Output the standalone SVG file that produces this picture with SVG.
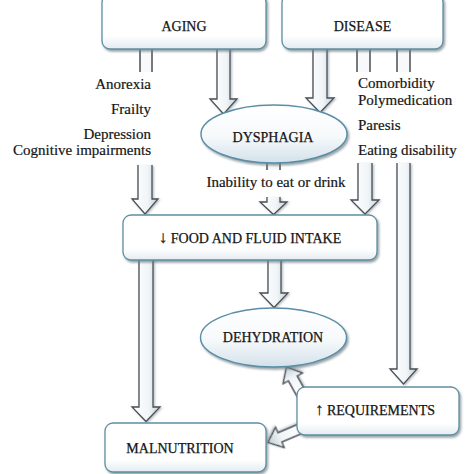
<svg xmlns="http://www.w3.org/2000/svg" width="474" height="474" viewBox="0 0 474 474">
<defs>
<linearGradient id="boxFill" x1="0" y1="0" x2="0" y2="1">
<stop offset="0" stop-color="#ffffff"/>
<stop offset="0.75" stop-color="#ffffff"/>
<stop offset="1" stop-color="#e3ecf1"/>
</linearGradient>
<linearGradient id="ellFill" x1="0" y1="0" x2="0" y2="1">
<stop offset="0" stop-color="#ffffff"/>
<stop offset="0.55" stop-color="#f6f9fb"/>
<stop offset="1" stop-color="#d3e1ea"/>
</linearGradient>
<linearGradient id="arrFill" x1="0" y1="0" x2="1" y2="0">
<stop offset="0" stop-color="#ffffff"/>
<stop offset="0.6" stop-color="#f1f5f7"/>
<stop offset="1" stop-color="#c3d0d8"/>
</linearGradient>
<filter id="shadow" x="-10%" y="-10%" width="125%" height="135%">
<feDropShadow dx="1.5" dy="2" stdDeviation="1.3" flood-color="#6d7b84" flood-opacity="0.7"/>
</filter>
<filter id="ashadow" x="-30%" y="-10%" width="170%" height="130%">
<feDropShadow dx="1.2" dy="1" stdDeviation="0.8" flood-color="#7a8a94" flood-opacity="0.6"/>
</filter>
</defs>
<style>
.box{fill:url(#boxFill);stroke:#5f8fa0;stroke-width:1.3;filter:url(#shadow)}
.ell{fill:url(#ellFill);stroke:#5a8ea6;stroke-width:1.4;filter:url(#shadow)}
.arr{fill:url(#arrFill);stroke:#4a4f54;stroke-width:1.3;stroke-linejoin:miter;filter:url(#ashadow)}
.rail{stroke:#4a4f54;stroke-width:1.5;fill:none}
.railfill{fill:#f7f9fa;stroke:none}
.cap{font-family:"Liberation Serif","Times New Roman",serif;font-size:14px;fill:#151515;stroke:#151515;stroke-width:0.25}
.lbl{font-family:"Liberation Serif","Times New Roman",serif;font-size:15px;fill:#151515;stroke:#151515;stroke-width:0.2}
.sym{font-size:17px}
</style>
<rect width="474" height="474" fill="#ffffff"/>

<g id="connectors">
<rect class="railfill" x="140" y="46" width="12" height="26"/>
<path class="rail" d="M140,46 V72 M152,46 V72"/>
<path class="arr" d="M217,44 V99 H210 L223.5,114 L237,99 H230 V44"/>
<path class="arr" d="M313,44 V98 H306 L320,112.5 L334,98 H327 V44"/>
<rect class="railfill" x="357" y="46" width="13" height="26"/>
<path class="rail" d="M357,46 V72 M370,46 V72"/>
<rect class="railfill" x="397" y="46" width="13" height="26"/>
<path class="rail" d="M397,46 V72 M410,46 V72"/>
<path class="arr" d="M138,165 V199 H132 L145,214 L158,199 H152 V165"/>
<rect class="railfill" x="267" y="160" width="13" height="10"/>
<path class="rail" d="M267,160 V170 M280,160 V170"/>
<path class="arr" d="M267,197 V202 H260 L273.5,214.5 L287,202 H280 V197"/>
<path class="arr" d="M358,163 V200 H351 L365,214 L379,200 H372 V163"/>
<path class="arr" d="M397,163 V369 H390 L403.5,384 L417,369 H410 V163"/>
<path class="arr" d="M139,256 V407 H132 L146,421.5 L160,407 H153 V256"/>
<path class="arr" d="M268,256 V293 H260 L274,307.5 L288,293 H281 V256"/>
<path class="arr" transform="translate(302,395) rotate(-119)" d="M0,-5 H19 V-11 L32,0 L19,11 V5 H0"/>
<path class="arr" transform="translate(302,428) rotate(157)" d="M0,-5 H24 V-11 L37,0 L24,11 V5 H0"/>
</g>

<g id="aging">
<rect class="box" x="102" y="-6" width="164" height="55" rx="8"/>
<text class="cap" x="184" y="31" text-anchor="middle">AGING</text>
</g>
<g id="disease">
<rect class="box" x="282" y="-6" width="161" height="55" rx="8"/>
<text class="cap" x="362.5" y="31" text-anchor="middle">DISEASE</text>
</g>
<g id="aging-labels">
<text class="lbl" x="151" y="89" text-anchor="end">Anorexia</text>
<text class="lbl" x="151" y="114" text-anchor="end">Frailty</text>
<text class="lbl" x="151" y="139" text-anchor="end">Depression</text>
<text class="lbl" x="151" y="155" text-anchor="end">Cognitive impairments</text>
</g>
<g id="disease-labels">
<text class="lbl" x="358" y="88">Comorbidity</text>
<text class="lbl" x="358" y="105">Polymedication</text>
<text class="lbl" x="358" y="130">Paresis</text>
<text class="lbl" x="358" y="155">Eating disability</text>
</g>
<g id="dysphagia">
<ellipse class="ell" cx="274" cy="134" rx="73" ry="29"/>
<text class="cap" x="273" y="142" text-anchor="middle">DYSPHAGIA</text>
</g>
<g id="inability-label">
<text class="lbl" x="276" y="187" text-anchor="middle">Inability to eat or drink</text>
</g>
<g id="food">
<rect class="box" x="123" y="215" width="254" height="45" rx="8"/>
<text class="cap" x="250" y="243" text-anchor="middle"><tspan class="sym">↓</tspan> FOOD AND FLUID INTAKE</text>
</g>
<g id="dehydration">
<ellipse class="ell" cx="273.5" cy="337.5" rx="73" ry="29.5"/>
<text class="cap" x="273" y="342" text-anchor="middle">DEHYDRATION</text>
</g>
<g id="requirements">
<rect class="box" x="297" y="387" width="162" height="48" rx="8"/>
<text class="cap" x="375" y="415" text-anchor="middle"><tspan class="sym">↑</tspan> REQUIREMENTS</text>
</g>
<g id="malnutrition">
<rect class="box" x="105" y="423" width="161" height="49" rx="8"/>
<text class="cap" x="180" y="453" text-anchor="middle">MALNUTRITION</text>
</g>
</svg>
